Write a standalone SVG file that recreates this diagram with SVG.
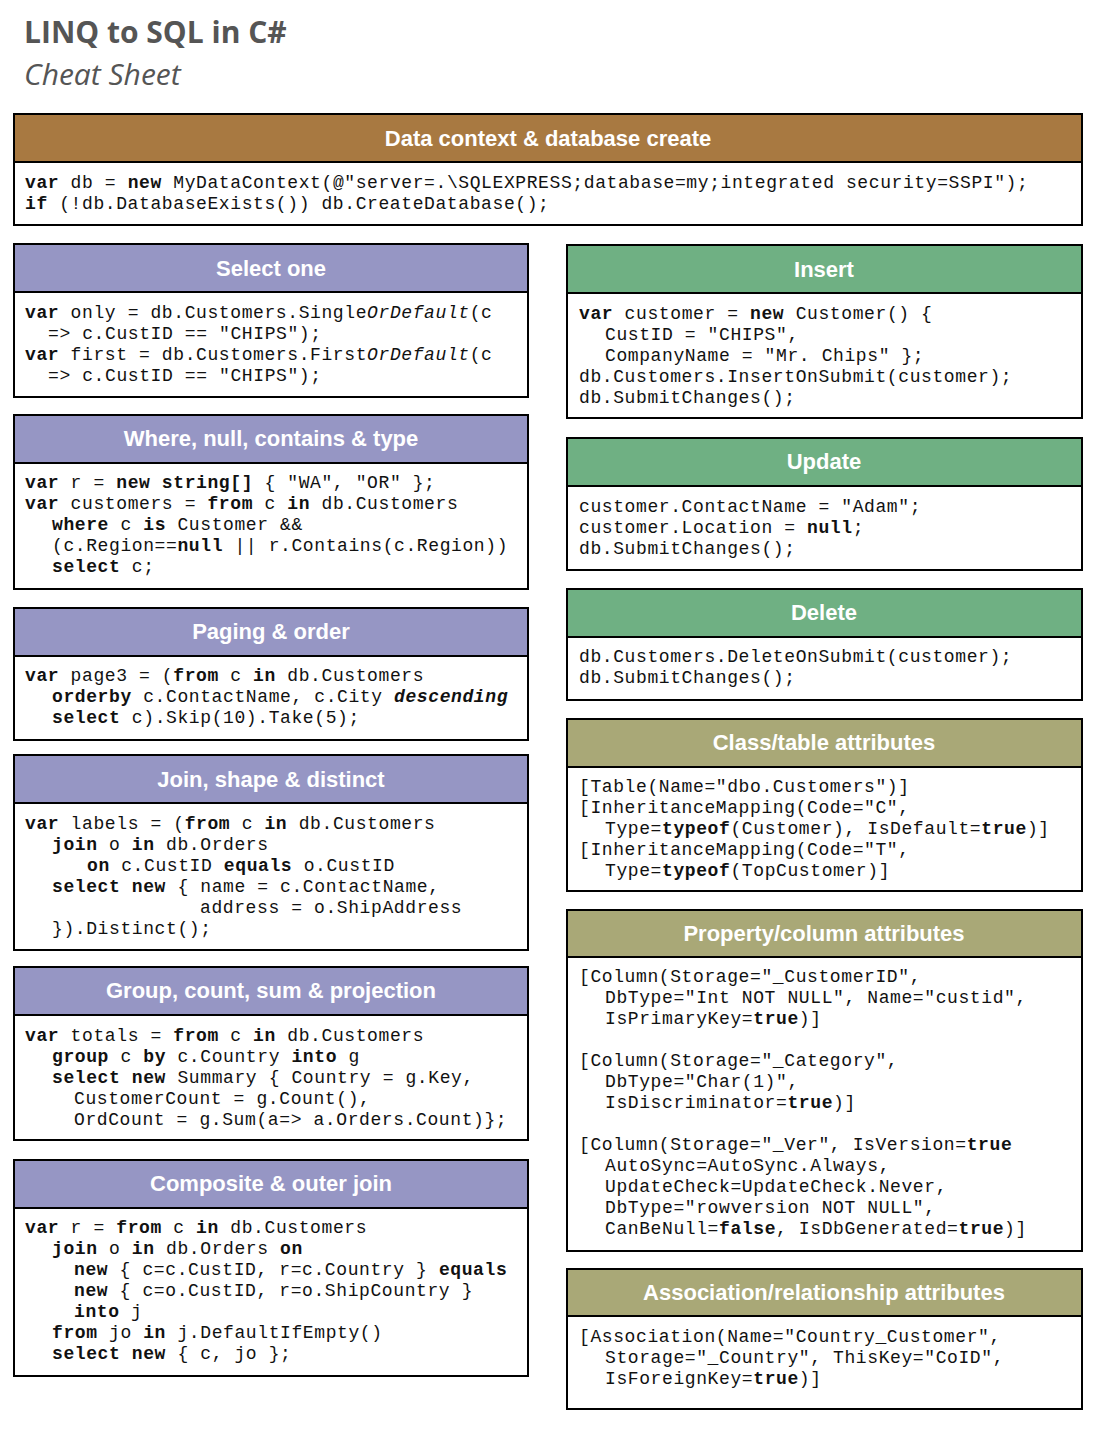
<svg xmlns="http://www.w3.org/2000/svg" width="1094" height="1433" viewBox="0 0 1094 1433">
<style>
.box{fill:#fff;stroke:#000;stroke-width:2}
.hb{fill:#a87941}.hp{fill:#9696c4}.hg{fill:#6fb083}.ho{fill:#a9a877}
.hl{stroke:#000;stroke-width:2}
.h{font-family:"Liberation Sans",Arial,sans-serif;font-weight:bold;font-size:22px;fill:#fff;text-anchor:middle}
.c{font-family:"Liberation Mono","DejaVu Sans Mono",monospace;font-size:18px;letter-spacing:0.6px;fill:#111;white-space:pre}
.k{font-weight:bold}.i{font-style:italic}
</style>
<rect width="1094" height="1433" fill="#fff"/>
<text x="24" y="43" font-family="'Open Sans','Noto Sans',sans-serif" font-weight="bold" font-size="30" fill="#555">LINQ to SQL in C#</text>
<text x="24" y="85" font-family="'Open Sans','Noto Sans',sans-serif" font-style="italic" font-size="30" fill="#555">Cheat Sheet</text>

<g id="datacontext">
<rect class="box" x="14" y="114" width="1068" height="111"/>
<rect class="hb" x="15" y="115" width="1066" height="47"/><line class="hl" x1="14" y1="162" x2="1082" y2="162"/>
<text class="h" x="548" y="146">Data context &amp; database create</text>
<text class="c" xml:space="preserve"><tspan x="25" y="188"><tspan class="k">var</tspan> db = <tspan class="k">new</tspan> MyDataContext(@"server=.\SQLEXPRESS;database=my;integrated security=SSPI");</tspan><tspan x="25" y="209"><tspan class="k">if</tspan> (!db.DatabaseExists()) db.CreateDatabase();</tspan></text>
</g>

<g id="selectone">
<rect class="box" x="14" y="244" width="514" height="153"/>
<rect class="hp" x="15" y="245" width="512" height="47"/><line class="hl" x1="14" y1="292" x2="528" y2="292"/>
<text class="h" x="271" y="276">Select one</text>
<text class="c" xml:space="preserve"><tspan x="25" y="318"><tspan class="k">var</tspan> only = db.Customers.Single<tspan class="i">OrDefault</tspan>(c</tspan><tspan x="48" y="339">=&gt; c.CustID == "CHIPS");</tspan><tspan x="25" y="360"><tspan class="k">var</tspan> first = db.Customers.First<tspan class="i">OrDefault</tspan>(c</tspan><tspan x="48" y="381">=&gt; c.CustID == "CHIPS");</tspan></text>
</g>

<g id="where">
<rect class="box" x="14" y="415" width="514" height="174"/>
<rect class="hp" x="15" y="416" width="512" height="47"/><line class="hl" x1="14" y1="463" x2="528" y2="463"/>
<text class="h" x="271" y="446">Where, null, contains &amp; type</text>
<text class="c" xml:space="preserve"><tspan x="25" y="488"><tspan class="k">var</tspan> r = <tspan class="k">new string[]</tspan> { "WA", "OR" };</tspan><tspan x="25" y="509"><tspan class="k">var</tspan> customers = <tspan class="k">from</tspan> c <tspan class="k">in</tspan> db.Customers</tspan><tspan x="52" y="530"><tspan class="k">where</tspan> c <tspan class="k">is</tspan> Customer &amp;&amp;</tspan><tspan x="52" y="551">(c.Region==<tspan class="k">null</tspan> || r.Contains(c.Region))</tspan><tspan x="52" y="572"><tspan class="k">select</tspan> c;</tspan></text>
</g>

<g id="paging">
<rect class="box" x="14" y="608" width="514" height="132"/>
<rect class="hp" x="15" y="609" width="512" height="47"/><line class="hl" x1="14" y1="656" x2="528" y2="656"/>
<text class="h" x="271" y="639">Paging &amp; order</text>
<text class="c" xml:space="preserve"><tspan x="25" y="681"><tspan class="k">var</tspan> page3 = (<tspan class="k">from</tspan> c <tspan class="k">in</tspan> db.Customers</tspan><tspan x="52" y="702"><tspan class="k">orderby</tspan> c.ContactName, c.City <tspan class="k i">descending</tspan></tspan><tspan x="52" y="723"><tspan class="k">select</tspan> c).Skip(10).Take(5);</tspan></text>
</g>

<g id="join">
<rect class="box" x="14" y="755" width="514" height="195"/>
<rect class="hp" x="15" y="756" width="512" height="47"/><line class="hl" x1="14" y1="803" x2="528" y2="803"/>
<text class="h" x="271" y="787">Join, shape &amp; distinct</text>
<text class="c" xml:space="preserve"><tspan x="25" y="829"><tspan class="k">var</tspan> labels = (<tspan class="k">from</tspan> c <tspan class="k">in</tspan> db.Customers</tspan><tspan x="52" y="850"><tspan class="k">join</tspan> o <tspan class="k">in</tspan> db.Orders</tspan><tspan x="87" y="871"><tspan class="k">on</tspan> c.CustID <tspan class="k">equals</tspan> o.CustID</tspan><tspan x="52" y="892"><tspan class="k">select new</tspan> { name = c.ContactName,</tspan><tspan x="200" y="913">address = o.ShipAddress</tspan><tspan x="52" y="934">}).Distinct();</tspan></text>
</g>

<g id="group">
<rect class="box" x="14" y="967" width="514" height="173"/>
<rect class="hp" x="15" y="968" width="512" height="47"/><line class="hl" x1="14" y1="1015" x2="528" y2="1015"/>
<text class="h" x="271" y="998">Group, count, sum &amp; projection</text>
<text class="c" xml:space="preserve"><tspan x="25" y="1041"><tspan class="k">var</tspan> totals = <tspan class="k">from</tspan> c <tspan class="k">in</tspan> db.Customers</tspan><tspan x="52" y="1062"><tspan class="k">group</tspan> c <tspan class="k">by</tspan> c.Country <tspan class="k">into</tspan> g</tspan><tspan x="52" y="1083"><tspan class="k">select new</tspan> Summary { Country = g.Key,</tspan><tspan x="74" y="1104">CustomerCount = g.Count(),</tspan><tspan x="74" y="1125">OrdCount = g.Sum(a=&gt; a.Orders.Count)};</tspan></text>
</g>

<g id="composite">
<rect class="box" x="14" y="1160" width="514" height="216"/>
<rect class="hp" x="15" y="1161" width="512" height="47"/><line class="hl" x1="14" y1="1208" x2="528" y2="1208"/>
<text class="h" x="271" y="1191">Composite &amp; outer join</text>
<text class="c" xml:space="preserve"><tspan x="25" y="1233"><tspan class="k">var</tspan> r = <tspan class="k">from</tspan> c <tspan class="k">in</tspan> db.Customers</tspan><tspan x="52" y="1254"><tspan class="k">join</tspan> o <tspan class="k">in</tspan> db.Orders <tspan class="k">on</tspan></tspan><tspan x="74" y="1275"><tspan class="k">new</tspan> { c=c.CustID, r=c.Country } <tspan class="k">equals</tspan></tspan><tspan x="74" y="1296"><tspan class="k">new</tspan> { c=o.CustID, r=o.ShipCountry }</tspan><tspan x="74" y="1317"><tspan class="k">into</tspan> j</tspan><tspan x="52" y="1338"><tspan class="k">from</tspan> jo <tspan class="k">in</tspan> j.DefaultIfEmpty()</tspan><tspan x="52" y="1359"><tspan class="k">select new</tspan> { c, jo };</tspan></text>
</g>

<g id="insert">
<rect class="box" x="567" y="245" width="515" height="173"/>
<rect class="hg" x="568" y="246" width="513" height="47"/><line class="hl" x1="567" y1="293" x2="1082" y2="293"/>
<text class="h" x="824" y="277">Insert</text>
<text class="c" xml:space="preserve"><tspan x="579" y="319"><tspan class="k">var</tspan> customer = <tspan class="k">new</tspan> Customer() {</tspan><tspan x="605" y="340">CustID = "CHIPS",</tspan><tspan x="605" y="361">CompanyName = "Mr. Chips" };</tspan><tspan x="579" y="382">db.Customers.InsertOnSubmit(customer);</tspan><tspan x="579" y="403">db.SubmitChanges();</tspan></text>
</g>

<g id="update">
<rect class="box" x="567" y="438" width="515" height="132"/>
<rect class="hg" x="568" y="439" width="513" height="47"/><line class="hl" x1="567" y1="486" x2="1082" y2="486"/>
<text class="h" x="824" y="469">Update</text>
<text class="c" xml:space="preserve"><tspan x="579" y="512">customer.ContactName = "Adam";</tspan><tspan x="579" y="533">customer.Location = <tspan class="k">null</tspan>;</tspan><tspan x="579" y="554">db.SubmitChanges();</tspan></text>
</g>

<g id="delete">
<rect class="box" x="567" y="589" width="515" height="111"/>
<rect class="hg" x="568" y="590" width="513" height="47"/><line class="hl" x1="567" y1="637" x2="1082" y2="637"/>
<text class="h" x="824" y="620">Delete</text>
<text class="c" xml:space="preserve"><tspan x="579" y="662">db.Customers.DeleteOnSubmit(customer);</tspan><tspan x="579" y="683">db.SubmitChanges();</tspan></text>
</g>

<g id="classattr">
<rect class="box" x="567" y="719" width="515" height="172"/>
<rect class="ho" x="568" y="720" width="513" height="47"/><line class="hl" x1="567" y1="767" x2="1082" y2="767"/>
<text class="h" x="824" y="750">Class/table attributes</text>
<text class="c" xml:space="preserve"><tspan x="579" y="792">[Table(Name="dbo.Customers")]</tspan><tspan x="579" y="813">[InheritanceMapping(Code="C",</tspan><tspan x="605" y="834">Type=<tspan class="k">typeof</tspan>(Customer), IsDefault=<tspan class="k">true</tspan>)]</tspan><tspan x="579" y="855">[InheritanceMapping(Code="T",</tspan><tspan x="605" y="876">Type=<tspan class="k">typeof</tspan>(TopCustomer)]</tspan></text>
</g>

<g id="propattr">
<rect class="box" x="567" y="910" width="515" height="341"/>
<rect class="ho" x="568" y="911" width="513" height="46"/><line class="hl" x1="567" y1="957" x2="1082" y2="957"/>
<text class="h" x="824" y="941">Property/column attributes</text>
<text class="c" xml:space="preserve"><tspan x="579" y="982">[Column(Storage="_CustomerID",</tspan><tspan x="605" y="1003">DbType="Int NOT NULL", Name="custid",</tspan><tspan x="605" y="1024">IsPrimaryKey=<tspan class="k">true</tspan>)]</tspan><tspan x="579" y="1066">[Column(Storage="_Category",</tspan><tspan x="605" y="1087">DbType="Char(1)",</tspan><tspan x="605" y="1108">IsDiscriminator=<tspan class="k">true</tspan>)]</tspan><tspan x="579" y="1150">[Column(Storage="_Ver", IsVersion=<tspan class="k">true</tspan></tspan><tspan x="605" y="1171">AutoSync=AutoSync.Always,</tspan><tspan x="605" y="1192">UpdateCheck=UpdateCheck.Never,</tspan><tspan x="605" y="1213">DbType="rowversion NOT NULL",</tspan><tspan x="605" y="1234">CanBeNull=<tspan class="k">false</tspan>, IsDbGenerated=<tspan class="k">true</tspan>)]</tspan></text>
</g>

<g id="assocattr">
<rect class="box" x="567" y="1269" width="515" height="140"/>
<rect class="ho" x="568" y="1270" width="513" height="46"/><line class="hl" x1="567" y1="1316" x2="1082" y2="1316"/>
<text class="h" x="824" y="1300">Association/relationship attributes</text>
<text class="c" xml:space="preserve"><tspan x="579" y="1342">[Association(Name="Country_Customer",</tspan><tspan x="605" y="1363">Storage="_Country", ThisKey="CoID",</tspan><tspan x="605" y="1384">IsForeignKey=<tspan class="k">true</tspan>)]</tspan></text>
</g>
<g id="connectors"/>
</svg>
